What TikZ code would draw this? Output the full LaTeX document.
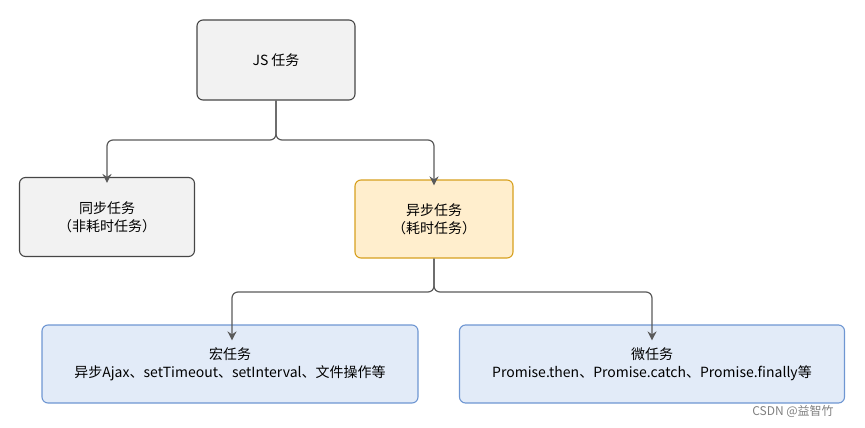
\documentclass[tikz,border=0pt]{standalone}
\usepackage{fontspec}
\setmainfont{Noto Sans CJK SC}
\usetikzlibrary{arrows.meta}
\definecolor{gb}{RGB}{70,70,70}
\definecolor{gf}{RGB}{242,242,242}
\definecolor{ob}{RGB}{215,160,30}
\definecolor{of}{RGB}{255,238,205}
\definecolor{bb}{RGB}{110,150,210}
\definecolor{bf}{RGB}{226,235,248}
\definecolor{ln}{RGB}{90,90,90}
\tikzset{
 box/.style={draw=gb,fill=gf,rounded corners=6pt,line width=1.1pt,align=center,font=\fontsize{14}{18}\selectfont,inner sep=0pt},
 obox/.style={box,draw=ob,fill=of},
 bbox/.style={box,draw=bb,fill=bf},
 conn/.style={draw=ln,line width=1.2pt,rounded corners=6pt,-{Stealth[length=9pt,width=9pt]}},
}
\begin{document}
\begin{tikzpicture}[x=1pt,y=-1pt]
\useasboundingbox (0,0) rectangle (865,428);
\node[box,minimum width=158pt,minimum height=80pt] (js) at (276,60) {JS 任务};
\node[box,minimum width=175pt,minimum height=79pt] (sync) at (107,217) {同步任务\\（非耗时任务）};
\node[obox,minimum width=158pt,minimum height=78pt] (async) at (434,219) {异步任务\\（耗时任务）};
\node[bbox,minimum width=376pt,minimum height=78pt] (macro) at (230,364) {宏任务\\异步Ajax、setTimeout、setInterval、文件操作等};
\node[bbox,minimum width=385pt,minimum height=78pt] (micro) at (652,364) {微任务\\Promise.then、Promise.catch、Promise.finally等};
\coordinate (j1) at (276,140);
\coordinate (a1) at (434,292);
\draw[conn] (js.south) -- (j1) -| ([yshift=-6pt]sync.north);
\draw[conn] (js.south) -- (j1) -| ([yshift=-6pt]async.north);
\draw[conn] (async.south) -- (a1) -| ([xshift=2pt,yshift=-16pt]macro.north);
\draw[conn] (async.south) -- (a1) -| ([yshift=-16pt]micro.north);
\node[text=gray,font=\fontsize{12}{14}\selectfont] (wm) at (793,411) {CSDN @益智竹};
\end{tikzpicture}
\end{document}
